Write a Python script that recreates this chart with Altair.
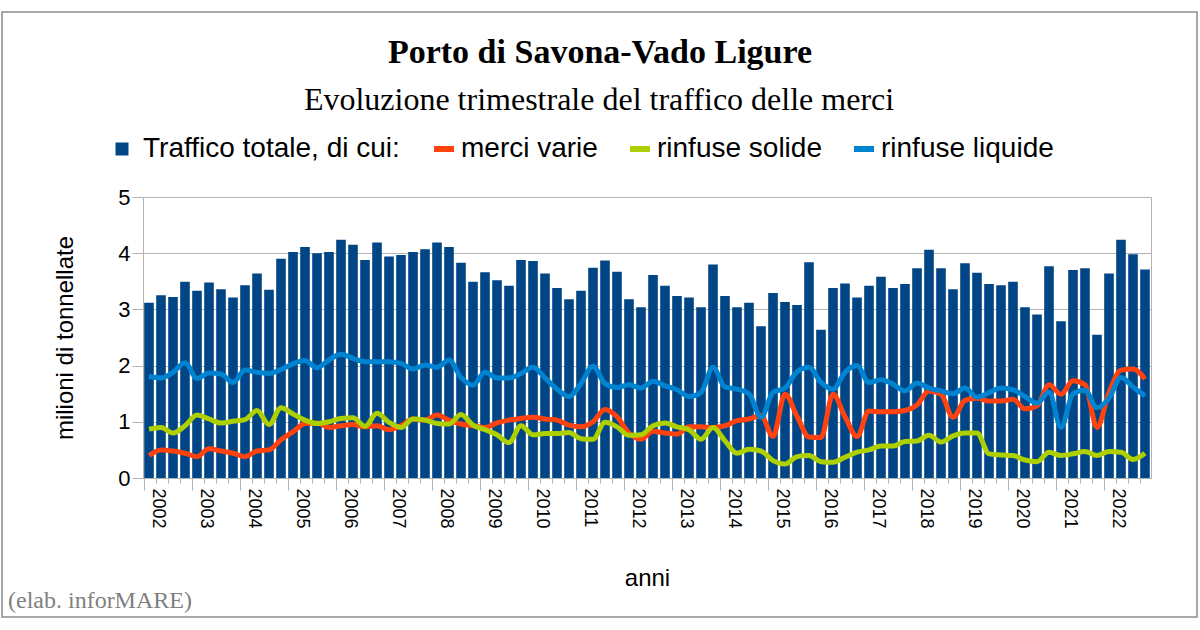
import altair as alt
import pandas as pd

# Quarterly categories 2002 T1 .. 2022 T4
anni = list(range(2002, 2023))
trimestri = [f"{a} T{t}" for a in anni for t in range(1, 5)]

# Total traffic (million tonnes) per quarter
traffico_totale = [
    3.12, 3.25, 3.22, 3.49,
    3.33, 3.48, 3.36, 3.21,
    3.43, 3.64, 3.35, 3.90,
    4.02, 4.11, 4.00, 4.02,
    4.24, 4.15, 3.88, 4.19,
    3.94, 3.97, 4.02, 4.07,
    4.19, 4.11, 3.83, 3.49,
    3.66, 3.52, 3.42, 3.88,
    3.86, 3.64, 3.38, 3.18,
    3.33, 3.74, 3.87, 3.67,
    3.18, 3.04, 3.61, 3.42,
    3.24, 3.21, 3.04, 3.80,
    3.24, 3.04, 3.12, 2.70,
    3.29, 3.13, 3.08, 3.84,
    2.64, 3.38, 3.46, 3.21,
    3.42, 3.58, 3.38, 3.45,
    3.73, 4.06, 3.73, 3.36,
    3.82, 3.65, 3.45, 3.43,
    3.49, 3.04, 2.91, 3.77,
    2.79, 3.70, 3.73, 2.55,
    3.64, 4.24, 3.98, 3.71,
]

merci_varie = [
    0.40, 0.50, 0.48, 0.44,
    0.38, 0.52, 0.48, 0.44,
    0.38, 0.48, 0.50, 0.68,
    0.82, 0.97, 0.98, 0.90,
    0.93, 0.95, 0.91, 0.93,
    0.86, 0.93, 1.05, 1.03,
    1.12, 1.03, 0.96, 0.93,
    0.90, 0.98, 1.03, 1.06,
    1.08, 1.05, 1.03, 0.94,
    0.91, 1.00, 1.22, 1.09,
    0.80, 0.69, 0.83, 0.80,
    0.78, 0.91, 0.91, 0.90,
    0.93, 1.02, 1.05, 1.11,
    0.74, 1.49, 1.10, 0.73,
    0.72, 1.49, 1.09, 0.74,
    1.19, 1.18, 1.18, 1.20,
    1.30, 1.55, 1.49, 1.08,
    1.38, 1.42, 1.37, 1.37,
    1.40, 1.23, 1.28, 1.66,
    1.49, 1.73, 1.66, 0.90,
    1.52, 1.92, 1.94, 1.76,
]

rinfuse_solide = [
    0.87, 0.90, 0.80, 0.93,
    1.12, 1.05, 0.98, 1.01,
    1.04, 1.20, 0.95, 1.25,
    1.14, 1.03, 0.97, 1.00,
    1.06, 1.07, 0.92, 1.15,
    0.99, 0.90, 1.05, 1.03,
    0.97, 0.96, 1.13, 0.94,
    0.86, 0.77, 0.63, 0.93,
    0.77, 0.79, 0.79, 0.81,
    0.70, 0.69, 0.99, 0.91,
    0.76, 0.77, 0.93, 0.98,
    0.91, 0.86, 0.69, 0.90,
    0.66, 0.44, 0.51, 0.48,
    0.31, 0.25, 0.38, 0.40,
    0.29, 0.28, 0.37, 0.46,
    0.50, 0.57, 0.57, 0.65,
    0.66, 0.76, 0.64, 0.75,
    0.80, 0.80, 0.43, 0.41,
    0.40, 0.32, 0.29, 0.46,
    0.40, 0.43, 0.47, 0.40,
    0.47, 0.46, 0.33, 0.44,
]

rinfuse_liquide = [
    1.81, 1.78, 1.88, 2.05,
    1.77, 1.87, 1.85, 1.70,
    1.92, 1.88, 1.86, 1.93,
    2.03, 2.09, 1.96, 2.10,
    2.20, 2.13, 2.07, 2.07,
    2.07, 2.04, 1.94, 2.01,
    1.97, 2.10, 1.79, 1.65,
    1.88, 1.78, 1.78, 1.86,
    1.97, 1.78, 1.58, 1.45,
    1.68, 1.99, 1.68, 1.61,
    1.66, 1.60, 1.72, 1.64,
    1.57, 1.45, 1.52, 1.97,
    1.62, 1.58, 1.50, 1.08,
    1.52, 1.60, 1.89, 1.97,
    1.70, 1.58, 1.88, 2.00,
    1.70, 1.75, 1.67, 1.55,
    1.69, 1.60, 1.55, 1.50,
    1.60, 1.44, 1.52, 1.60,
    1.57, 1.45, 1.33, 1.53,
    0.90, 1.50, 1.56, 1.25,
    1.42, 1.79, 1.62, 1.46,
]

titolo = "Porto di Savona-Vado Ligure"
sottotitolo = "Evoluzione trimestrale del traffico delle merci"
fonte = "(elab. inforMARE)"
voce_totale = "Traffico totale, di cui:"
serie_nomi = ["merci varie", "rinfuse solide", "rinfuse liquide"]
serie_colori = ["#ff420e", "#aecf00", "#0084d1"]
colore_barre = "#004586"
grigio = "#b3b3b3"
SANS = "Liberation Sans"
SERIF = "Liberation Serif"

df_tot = pd.DataFrame({"trimestre": trimestri, "valore": traffico_totale, "voce": voce_totale})
df_lin = pd.DataFrame({
    "trimestre": trimestri * 3,
    "valore": merci_varie + rinfuse_solide + rinfuse_liquide,
    "serie": [n for n in serie_nomi for _ in trimestri],
})

x_enc = alt.X(
    "trimestre:O",
    sort=trimestri,
    scale=alt.Scale(paddingInner=0.2, paddingOuter=0.1),
    axis=alt.Axis(
        title="anni",
        titleFont=SANS, titleFontSize=24, titleFontWeight="normal", titleColor="#000",
        titlePadding=38,
        labelExpr="indexof(datum.value, 'T2') > 0 ? slice(datum.value, 0, 4) : ''",
        labelAngle=90, labelFont=SANS, labelFontSize=18, labelColor="#000",
        labelOffset=-3, labelPadding=5, labelOverlap=False,
        bandPosition=0,
        tickSize={"condition": {"test": "indexof(datum.value, 'T1') > 0", "value": 12}, "value": 5},
        tickColor=grigio, domainColor=grigio,
    ),
)

y_enc = alt.Y(
    "valore:Q",
    scale=alt.Scale(domain=[0, 5], nice=False),
    axis=alt.Axis(
        values=[0, 1, 2, 3, 4, 5], format="d",
        title="milioni di tonnellate",
        titleFont=SANS, titleFontSize=24, titleFontWeight="normal", titleColor="#000",
        titlePadding=40,
        labelFont=SANS, labelFontSize=22, labelColor="#000", labelPadding=2,
        grid=True, gridColor=grigio, tickSize=11, tickColor=grigio, domainColor=grigio,
    ),
)

barre = alt.Chart(df_tot).mark_bar().encode(
    x=x_enc,
    y=y_enc,
    fill=alt.Fill(
        "voce:N",
        scale=alt.Scale(domain=[voce_totale], range=[colore_barre]),
        legend=alt.Legend(
            title=None, orient="none", legendX=-35, legendY=-62,
            symbolType="square", symbolSize=169, symbolStrokeWidth=0,
            labelFont=SANS, labelFontSize=28, labelColor="#000", labelOffset=7, labelLimit=0,
        ),
    ),
)

stroke_enc = alt.Stroke(
    "serie:N",
    scale=alt.Scale(domain=serie_nomi, range=serie_colori),
    legend=alt.Legend(
        title=None, orient="none", direction="horizontal", columns=3,
        legendX=287, legendY=-62,
        symbolType="M-1,0H1", symbolSize=400, symbolStrokeWidth=6,
        labelFont=SANS, labelFontSize=28, labelColor="#000", labelOffset=3, labelLimit=0,
        columnPadding=20,
    ),
)

linee = [
    alt.Chart(df_lin)
    .transform_filter(alt.datum.serie == nome)
    .mark_line(strokeWidth=5, interpolate="monotone")
    .encode(x=x_enc, y=y_enc, stroke=stroke_enc)
    for nome in serie_nomi
]

# Heading and source note, placed relative to the plot's top-left corner
testata = alt.Chart(pd.DataFrame({"t": [titolo]})).mark_text(
    align="center", baseline="alphabetic", font=SERIF, fontSize=34, fontWeight="bold", color="#000"
).encode(x=alt.value(457), y=alt.value(-134), text="t:N")

sottotestata = alt.Chart(pd.DataFrame({"t": [sottotitolo]})).mark_text(
    align="center", baseline="alphabetic", font=SERIF, fontSize=32, color="#000"
).encode(x=alt.value(456), y=alt.value(-87), text="t:N")

nota = alt.Chart(pd.DataFrame({"t": [fonte]})).mark_text(
    align="left", baseline="middle", font=SERIF, fontSize=24, color="#808080"
).encode(x=alt.value(-135), y=alt.value(404), text="t:N")

cornice = alt.Chart(pd.DataFrame({"k": [0]})).mark_rect(
    fillOpacity=0, stroke="#8c8c8c", strokeWidth=1.5
).encode(x=alt.value(-141), x2=alt.value(1054), y=alt.value(-185), y2=alt.value(420))

chart = alt.layer(cornice, barre, *linee, testata, sottotestata, nota).properties(
    width=1008,
    height=281,
    padding={"left": 143, "top": 197, "right": 49, "bottom": 152},
    autosize=alt.AutoSizeParams(type="none"),
    background="#ffffff",
).configure_view(stroke=grigio, strokeWidth=1)

chart.save("out.html", embed_options={"renderer": "svg", "actions": False})
